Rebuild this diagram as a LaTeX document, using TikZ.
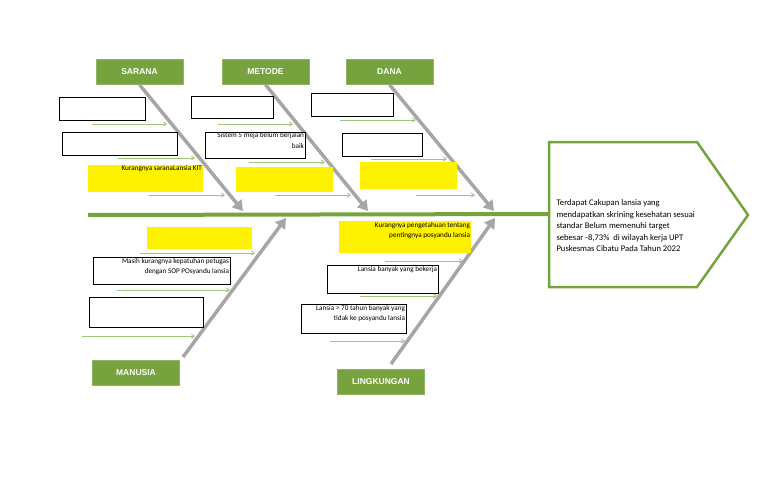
\documentclass[tikz,border=0pt]{standalone}
\usepackage{fontspec}
\setmainfont{Carlito}
\newfontfamily\hdr{Liberation Sans}
\usetikzlibrary{arrows.meta}
\definecolor{gr}{HTML}{77A33F}
\definecolor{ar}{HTML}{9DC77A}
\definecolor{bn}{HTML}{A6A6A6}
\begin{document}
\begin{tikzpicture}[x=1pt,y=-1pt,
 hd/.style={fill=gr,draw=gr!80!white,text=white,font=\hdr\bfseries\fontsize{8.5}{9}\selectfont,minimum width=87pt,minimum height=25pt,inner sep=0pt},
 bx/.style={draw=black,fill=white,inner sep=0pt},
 yb/.style={fill=yellow,inner sep=0pt},
 bone/.style={bn,line width=3.5pt,-{Triangle[length=10pt,width=12pt]}},
 sa/.style={ar,line width=0.8pt,-{Straight Barb[length=3pt,width=4pt]}},
 tx/.style={font=\fontsize{7.2}{10}\selectfont,align=right,anchor=north east,inner sep=1pt}]
\useasboundingbox (0,0) rectangle (768,503);
% head
\draw[gr,line width=2.5pt,fill=white] (549,142) -- (697,142) -- (748,215) -- (697,287) -- (549,287) -- cycle;
\node[coordinate] (hd) at (549,214) {};
\node[font=\fontsize{8.6}{11.5}\selectfont,align=left,anchor=west] (ht) at (553,226) {Terdapat Cakupan lansia yang\\mendapatkan skrining kesehatan sesuai\\standar Belum memenuhi target\\sebesar -8,73\%\ \ di wilayah kerja UPT\\Puskesmas Cibatu Pada Tahun 2022};
% spine
\coordinate (sp) at (88,215);
\draw[gr,line width=4pt] (sp) -- (hd);
% headers
\node[hd] (sar) at (139.5,72) {SARANA};
\node[hd] (met) at (265.5,72) {METODE};
\node[hd] (dan) at (389.5,72) {DANA};
\node[hd] (man) at (136,372.5) {MANUSIA};
\node[hd] (lin) at (381,381.5) {LINGKUNGAN};
% bones
\coordinate (e1) at (243,211); \coordinate (e2) at (368,211); \coordinate (e3) at (494,211);
\coordinate (e4) at (286,218); \coordinate (e5) at (495,218);
\coordinate (s4) at (183,357); \coordinate (s5) at (391,364);
\draw[bone] (sar.south) -- (e1);
\draw[bone] (met.south) -- (e2);
\draw[bone] (dan.south) -- (e3);
\draw[bone] (s4) -- (e4);
\draw[bone] (s5) -- (e5);
% top boxes
\node[bx,minimum width=86pt,minimum height=23pt] (b1) at (102,108.5) {};
\node[bx,minimum width=115pt,minimum height=23pt] (b2) at (119.5,143.5) {};
\node[yb,minimum width=115pt,minimum height=27pt] (y1) at (145.5,178.5) {};
\node[tx,anchor=north east] (t1) at (y1.north east) {Kurangnya saranaLansia KIT};
\node[bx,minimum width=82pt,minimum height=22pt] (b3) at (232,107) {};
\node[bx,minimum width=100pt,minimum height=26pt] (b4) at (255,145) {};
\node[tx] (t4) at (b4.north east) {Sistem 5 meja belum berjalan\\baik};
\node[yb,minimum width=97pt,minimum height=25pt] (y2) at (284.5,179.5) {};
\node[bx,minimum width=82pt,minimum height=23pt] (b5) at (352,104.5) {};
\node[bx,minimum width=80pt,minimum height=23pt] (b6) at (382,144.5) {};
\node[yb,minimum width=97pt,minimum height=27pt] (y3) at (408.5,175.5) {};
% bottom boxes
\node[yb,minimum width=105pt,minimum height=22pt] (y4) at (199.5,238) {};
\node[bx,minimum width=137pt,minimum height=27pt] (b7) at (161.5,270.5) {};
\node[tx] (t7) at (b7.north east) {Masih kurangnya kepatuhan petugas\\dengan SOP POsyandu lansia};
\node[bx,minimum width=114pt,minimum height=30pt] (b8) at (146,312) {};
\node[yb,minimum width=132pt,minimum height=32pt] (y5) at (405,237) {};
\node[tx] (t5) at (y5.north east) {Kurangnya pengetahuan tentang\\pentingnya posyandu lansia};
\node[bx,minimum width=111pt,minimum height=28pt] (b9) at (382.5,279) {};
\node[tx] (t9) at (b9.north east) {Lansia banyak yang bekerja};
\node[bx,minimum width=105pt,minimum height=29pt] (b10) at (353.5,318.5) {};
\node[tx] (t10) at (b10.north east) {Lansia > 70 tahun banyak yang\\tidak ke posyandu lansia};
% small arrows
\foreach \a/\b/\y in {92/167/124,118/195/158,149/225/195,218/293/124,249/325/162,275/351/195,340/416/120,371/447/159,416/475/195,140/255/253,117/230/290,82/195/336,385/463/261,360/437/296,330/405/341}{
 \coordinate (p\a) at (\a,\y); \coordinate (q\a) at (\b,\y);
 \draw[sa] (p\a) -- (q\a);}
\end{tikzpicture}
\end{document}
